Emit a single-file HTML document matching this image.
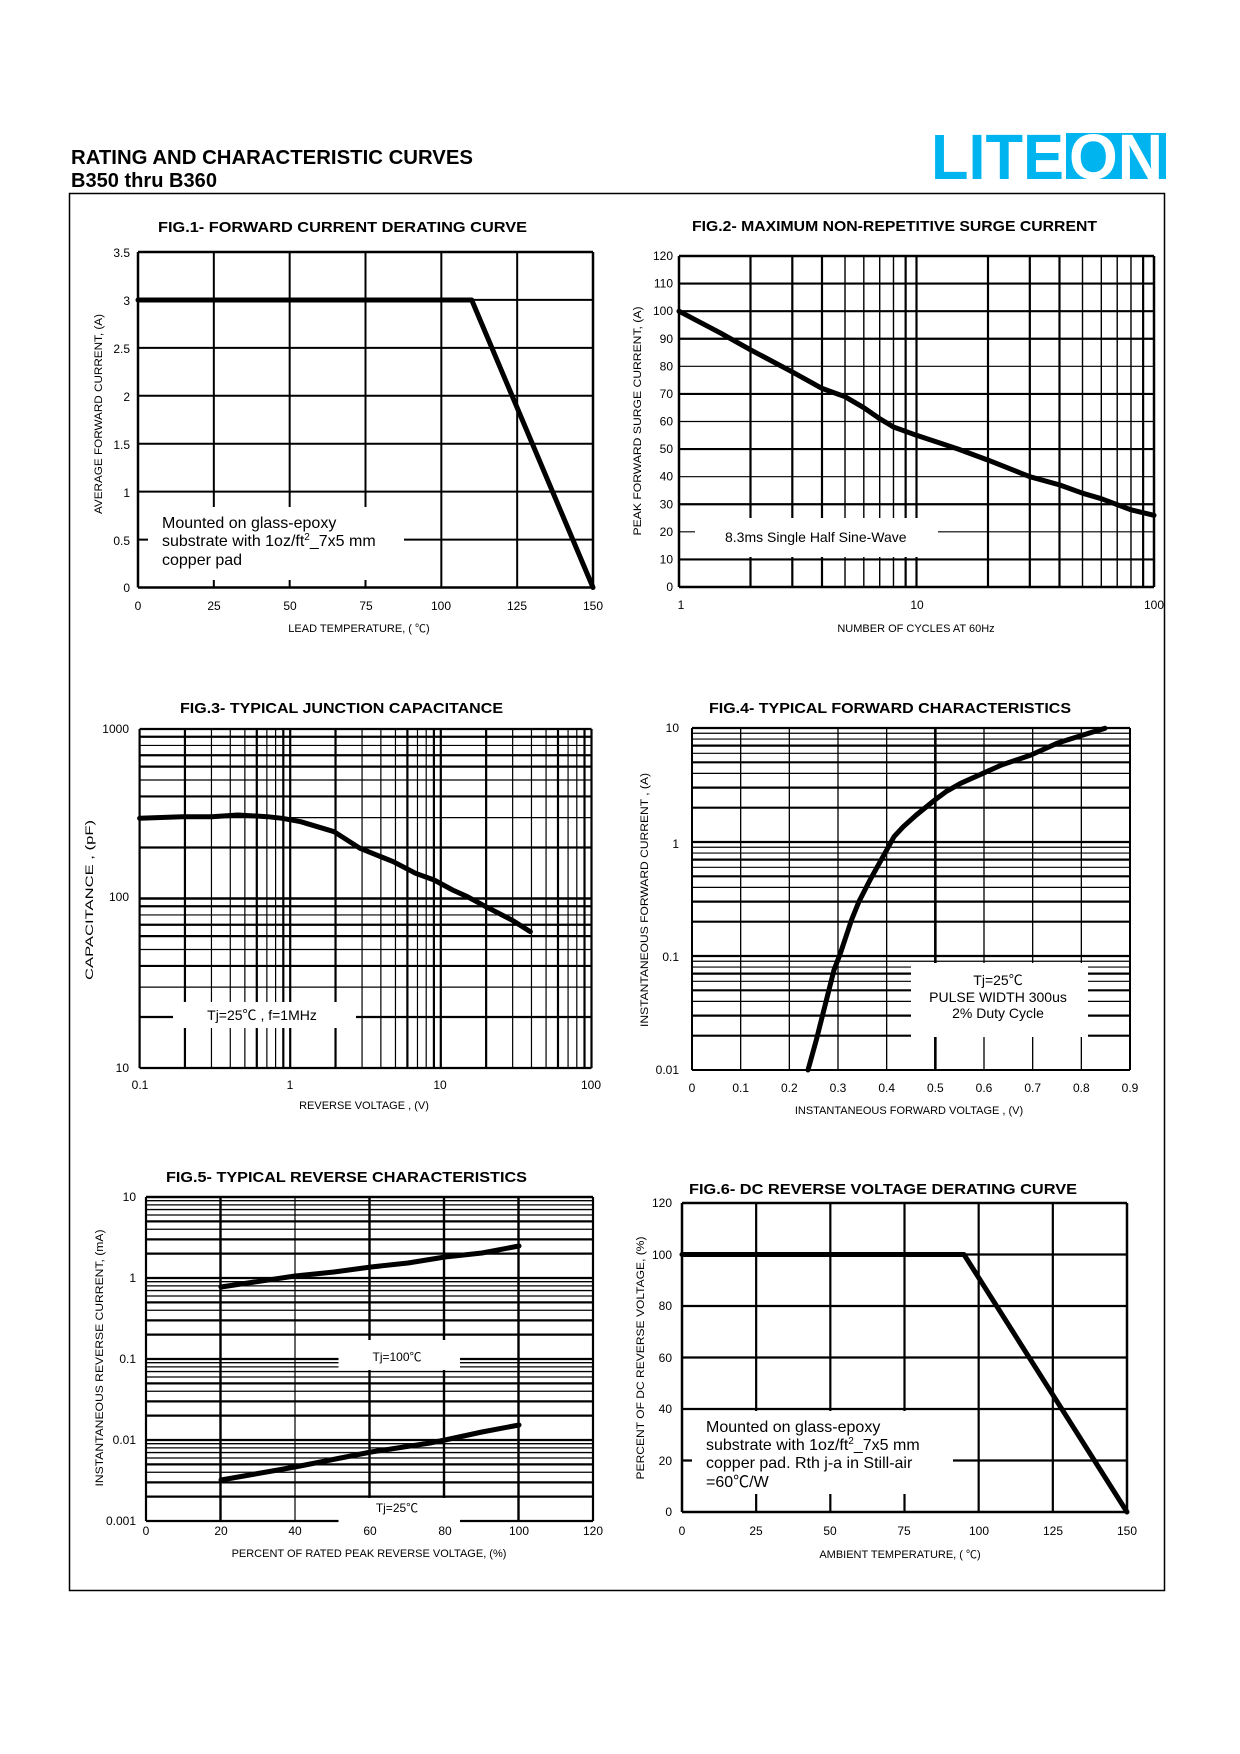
<!DOCTYPE html>
<html><head><meta charset="utf-8"><style>
html,body{margin:0;padding:0;background:#fff}
svg{display:block}
text{font-family:"Liberation Sans","Noto Sans CJK SC",sans-serif;fill:#000}
.t{font-size:12px}
.ax{font-size:11px}
.ft{font-size:15px;font-weight:bold}
.an{font-size:14px}
.an2{font-size:16px}
</style></head><body>
<svg id="s" width="1240" height="1754" viewBox="0 0 1240 1754" xmlns="http://www.w3.org/2000/svg">
<rect width="1240" height="1754" fill="#fff"/>
<g id="g"></g>
<text x="71" y="164" font-size="20" font-weight="bold" textLength="402" lengthAdjust="spacingAndGlyphs">RATING AND CHARACTERISTIC CURVES</text>
<text x="71" y="187" font-size="20" font-weight="bold" textLength="146" lengthAdjust="spacingAndGlyphs">B350 thru B360</text>
<text x="931" y="179" font-size="64" font-weight="bold" fill="#00b4f0" style="fill:#00b4f0" textLength="133" lengthAdjust="spacingAndGlyphs">LITE</text>
<rect x="1066" y="133" width="100" height="46" fill="#00b4f0"/>
<text x="1069" y="179" font-size="64" font-weight="bold" style="fill:#fff" textLength="94" lengthAdjust="spacingAndGlyphs">ON</text>
<rect x="69.5" y="193.5" width="1095" height="1397" fill="none" stroke="#000" stroke-width="1.5"/>

<!-- FIG1 -->
<text class="ft" x="158" y="232" textLength="369" lengthAdjust="spacingAndGlyphs">FIG.1- FORWARD CURRENT DERATING CURVE</text>
<g class="t" text-anchor="end">
<text x="130" y="257">3.5</text><text x="130" y="305">3</text><text x="130" y="353">2.5</text><text x="130" y="401">2</text><text x="130" y="449">1.5</text><text x="130" y="497">1</text><text x="130" y="545">0.5</text><text x="130" y="592">0</text></g>
<g class="t" text-anchor="middle">
<text x="138" y="610">0</text><text x="214" y="610">25</text><text x="290" y="610">50</text><text x="366" y="610">75</text><text x="441" y="610">100</text><text x="517" y="610">125</text><text x="593" y="610">150</text></g>
<text class="ax" x="359" y="632" text-anchor="middle">LEAD TEMPERATURE, ( ℃)</text>
<text class="ax" transform="translate(102,414) rotate(-90)" text-anchor="middle" textLength="200" lengthAdjust="spacingAndGlyphs">AVERAGE FORWARD CURRENT, (A)</text>
<g class="an2"><text x="162" y="528">Mounted on glass-epoxy</text><text x="162" y="546">substrate with  1oz/ft<tspan font-size="10" dy="-6">2</tspan><tspan dy="6">_7x5 mm</tspan></text><text x="162" y="565">copper pad</text></g>

<!-- FIG2 -->
<text class="ft" x="692" y="231" textLength="405" lengthAdjust="spacingAndGlyphs">FIG.2- MAXIMUM  NON-REPETITIVE SURGE CURRENT</text>
<g class="t" text-anchor="end" id="f2y"></g>
<g class="t" text-anchor="middle"><text x="681" y="609">1</text><text x="917" y="609">10</text><text x="1154" y="609">100</text></g>
<text class="ax" x="916" y="632" text-anchor="middle">NUMBER OF CYCLES AT 60Hz</text>
<text class="ax" transform="translate(641,421) rotate(-90)" text-anchor="middle" textLength="229" lengthAdjust="spacingAndGlyphs">PEAK FORWARD SURGE CURRENT, (A)</text>
<text class="an" x="725" y="542">8.3ms Single Half Sine-Wave</text>

<!-- FIG3 -->
<text class="ft" x="180" y="713" textLength="323" lengthAdjust="spacingAndGlyphs">FIG.3- TYPICAL JUNCTION CAPACITANCE</text>
<g class="t" text-anchor="end"><text x="129" y="733">1000</text><text x="129" y="901">100</text><text x="129" y="1072">10</text></g>
<g class="t" text-anchor="middle"><text x="140" y="1089">0.1</text><text x="290" y="1089">1</text><text x="440" y="1089">10</text><text x="591" y="1089">100</text></g>
<text class="ax" x="364" y="1109" text-anchor="middle">REVERSE VOLTAGE , (V)</text>
<text class="ax" transform="translate(93,900) rotate(-90)" text-anchor="middle" textLength="160" lengthAdjust="spacingAndGlyphs">CAPACITANCE , (pF)</text>
<text class="an" x="262" y="1020" text-anchor="middle">Tj=25℃ , f=1MHz</text>

<!-- FIG4 -->
<text class="ft" x="709" y="713" textLength="362" lengthAdjust="spacingAndGlyphs">FIG.4- TYPICAL FORWARD CHARACTERISTICS</text>
<g class="t" text-anchor="end"><text x="679" y="732">10</text><text x="679" y="848">1</text><text x="679" y="961">0.1</text><text x="679" y="1074">0.01</text></g>
<g class="t" text-anchor="middle" id="f4x"></g>
<text class="ax" x="909" y="1114" text-anchor="middle">INSTANTANEOUS FORWARD VOLTAGE , (V)</text>
<text class="ax" transform="translate(648,900) rotate(-90)" text-anchor="middle" textLength="254" lengthAdjust="spacingAndGlyphs">INSTANTANEOUS  FORWARD CURRENT , (A)</text>
<g class="an" text-anchor="middle"><text x="998" y="985">Tj=25℃</text><text x="998" y="1002">PULSE WIDTH 300us</text><text x="998" y="1018">2% Duty Cycle</text></g>

<!-- FIG5 -->
<text class="ft" x="166" y="1182" textLength="361" lengthAdjust="spacingAndGlyphs">FIG.5- TYPICAL REVERSE CHARACTERISTICS</text>
<g class="t" text-anchor="end"><text x="136" y="1201">10</text><text x="136" y="1282">1</text><text x="136" y="1363">0.1</text><text x="136" y="1444">0.01</text><text x="136" y="1525">0.001</text></g>
<g class="t" text-anchor="middle"><text x="146" y="1535">0</text><text x="221" y="1535">20</text><text x="295" y="1535">40</text><text x="370" y="1535">60</text><text x="445" y="1535">80</text><text x="519" y="1535">100</text><text x="593" y="1535">120</text></g>
<text class="ax" x="369" y="1557" text-anchor="middle">PERCENT OF RATED PEAK REVERSE VOLTAGE, (%)</text>
<text class="ax" transform="translate(103,1358) rotate(-90)" text-anchor="middle" textLength="257" lengthAdjust="spacingAndGlyphs">INSTANTANEOUS REVERSE CURRENT, (mA)</text>
<text class="t" x="397" y="1361" text-anchor="middle">Tj=100℃</text>
<text class="t" x="397" y="1512" text-anchor="middle">Tj=25℃</text>

<!-- FIG6 -->
<text class="ft" x="689" y="1194" textLength="388" lengthAdjust="spacingAndGlyphs">FIG.6- DC REVERSE VOLTAGE DERATING CURVE</text>
<g class="t" text-anchor="end"><text x="672" y="1207">120</text><text x="672" y="1259">100</text><text x="672" y="1310">80</text><text x="672" y="1362">60</text><text x="672" y="1413">40</text><text x="672" y="1465">20</text><text x="672" y="1516">0</text></g>
<g class="t" text-anchor="middle"><text x="682" y="1535">0</text><text x="756" y="1535">25</text><text x="830" y="1535">50</text><text x="904" y="1535">75</text><text x="979" y="1535">100</text><text x="1053" y="1535">125</text><text x="1127" y="1535">150</text></g>
<text class="ax" x="900" y="1558" text-anchor="middle">AMBIENT TEMPERATURE, ( ℃)</text>
<text class="ax" transform="translate(644,1358) rotate(-90)" text-anchor="middle" textLength="243" lengthAdjust="spacingAndGlyphs">PERCENT OF DC REVERSE VOLTAGE, (%)</text>
<g class="an2"><text x="706" y="1432">Mounted on glass-epoxy</text><text x="706" y="1450">substrate with 1oz/ft<tspan font-size="10" dy="-6">2</tspan><tspan dy="6">_7x5 mm</tspan></text><text x="706" y="1468">copper pad. Rth j-a in Still-air</text><text x="706" y="1487">=60℃/W</text></g>
</svg>
<script>
(function(){
var NS="http://www.w3.org/2000/svg",g=document.getElementById('g');
function L(x1,y1,x2,y2,w){var e=document.createElementNS(NS,'line');e.setAttribute('x1',x1);e.setAttribute('y1',y1);e.setAttribute('x2',x2);e.setAttribute('y2',y2);e.setAttribute('stroke','#000');e.setAttribute('stroke-width',w);g.appendChild(e);}
function R(x,y,w,h){var e=document.createElementNS(NS,'rect');e.setAttribute('x',x);e.setAttribute('y',y);e.setAttribute('width',w);e.setAttribute('height',h);e.setAttribute('fill','#fff');g.appendChild(e);}
function P(pts,w){var e=document.createElementNS(NS,'polyline');e.setAttribute('points',pts.map(function(p){return p[0].toFixed(1)+','+p[1].toFixed(1)}).join(' '));e.setAttribute('fill','none');e.setAttribute('stroke','#000');e.setAttribute('stroke-width',w);e.setAttribute('stroke-linejoin','round');e.setAttribute('stroke-linecap','round');g.appendChild(e);}
function B(x1,y1,x2,y2,w){L(x1,y1,x2,y1,w);L(x1,y2,x2,y2,w);L(x1,y1,x1,y2,w);L(x2,y1,x2,y2,w);}
var i,d,k,x,y;
// FIG1
for(i=1;i<6;i++){x=138+i*455/6;L(x,252,x,587.5,2);}
for(i=1;i<7;i++){y=252+i*335.5/7;L(138,y,593,y,2);}
R(148,507,256,73);B(138,252,593,587.5,2.5);
P([[138,300],[471.7,300],[593,587.5]],5);
// FIG2
function x2(n){return 679+Math.log10(n)*237.5;}
for(i=1;i<12;i++){y=587-i*331/12;L(679,y,1154,y,(i%2==1||i==10)?2.2:1.2);}
for(d=1;d<=10;d*=10)for(k=2;k<=10;k++){if(d==10&&k==10)continue;x=x2(k*d);L(x,256,x,587,(k<=4||k==10||k>=9)?2.2:1.4);}
R(695,518,243,39);B(679,256,1154,587,2.5);
var c2=[[1,100],[1.5,92],[2,86],[3,78],[4,72],[5,69],[6,65],[7,61],[8,58],[10,55],[15,50],[20,46],[30,40],[40,37],[50,34],[60,32],[80,28],[100,26]];
P(c2.map(function(p){return [x2(p[0]),587-p[1]*331/120]}),5);
var f2=document.getElementById('f2y');
for(i=0;i<=12;i++){var t=document.createElementNS(NS,'text');t.setAttribute('x',673);t.setAttribute('y',(587-i*331/12+4).toFixed(1));t.textContent=String(i*10);f2.appendChild(t);}
// FIG3
function x3(v){return 139.6+(Math.log10(v)+1)*150.6;}
function y3(v){return 1068-(Math.log10(v)-1)*169.5;}
for(d=0.1;d<50;d*=10)for(k=2;k<=10;k++){if(d>5&&k==10)continue;x=x3(k*d);L(x,729,x,1068,(k==2||k==6||k==9||k==10)?2.2:1.2);}
for(d=10;d<=100;d*=10)for(k=2;k<=9;k++){y=y3(k*d);L(139.6,y,591.5,y,(k==2||k==4||k==6||k==7||k==9)?2.2:1.2);}
L(139.6,y3(100),591.5,y3(100),2.4);
R(173,1002,183,26);B(139.6,729,591.5,1068,2.2);
var c3=[[215,415],[330,410],[410,410],[480,405],[560,410],[600,415],[650,425],[740,455],[810,505],[900,545],[960,580],[1010,600],[1060,630],[1100,650],[1150,680],[1220,720],[1270,755]];
P(c3.map(function(p){return [60+p[0]/2.7,680+p[1]/3]}),5);
// FIG4
function x4(v){return 692+v/0.9*438;}
function y4(v){return 1070-(Math.log10(v)+2)*114;}
for(i=1;i<9;i++){x=x4(i/10);L(x,728,x,1070,i==5?2.6:1.3);}
for(d=0.01;d<5;d*=10)for(k=2;k<=10;k++){y=y4(k*d);L(692,y,1130,y,(k==2||k==3||k==5||k==7||k==10)?2.2:1.2);}
R(911,963,177,74);B(692,728,1130,1070,2);
var c4=[[808,1070],[816.3,1040],[825.6,1003.3],[834,970],[840.4,953.3],[851.5,920],[858.9,901.7],[870,880],[886.7,850],[894,836.7],[903.3,826.7],[916.3,815],[934.8,800],[945.9,791.7],[960.7,783.3],[983,773.3],[1001.5,765],[1031,755],[1057,743.3],[1083,735],[1105,728.3]];
P(c4,5);
var f4=document.getElementById('f4x');
for(i=0;i<=9;i++){var t=document.createElementNS(NS,'text');t.setAttribute('x',x4(i/10).toFixed(1));t.setAttribute('y',1092);t.textContent=i==0?'0':'0.'+i;f4.appendChild(t);}
// FIG5
function y5(v){return 1521-(Math.log10(v)+3)*81;}
for(d=0.001;d<5;d*=10)for(k=2;k<=10;k++){y=y5(k*d);L(146,y,593,y,(k==2||k==3||k==5||k==10)?2.2:1.3);}
for(i=1;i<6;i++){x=146+i*447/6;L(x,1197,x,1521,i==2?1.2:2.4);}
R(338.5,1340,121.5,30);B(146,1197,593,1521,2.2);R(338.5,1498,121.5,26);
P([[221,1287],[295,1276],[334,1272],[371,1267],[408,1263],[445,1257],[482,1253],[519,1246]],5);
P([[221,1480],[295,1467],[371,1452],[430,1443],[445,1440],[482,1432],[519,1425]],5);
// FIG6
for(i=1;i<6;i++){x=682+i*445/6;L(x,1203,x,1512,2.2);}
for(i=1;i<6;i++){y=1512-i*309/6;L(682,y,1127,y,2.2);}
R(692,1411,261,83);B(682,1203,1127,1512,2.5);
P([[682,1254.5],[964,1254.5],[1127,1512]],5);
})();
</script>
</body></html>
